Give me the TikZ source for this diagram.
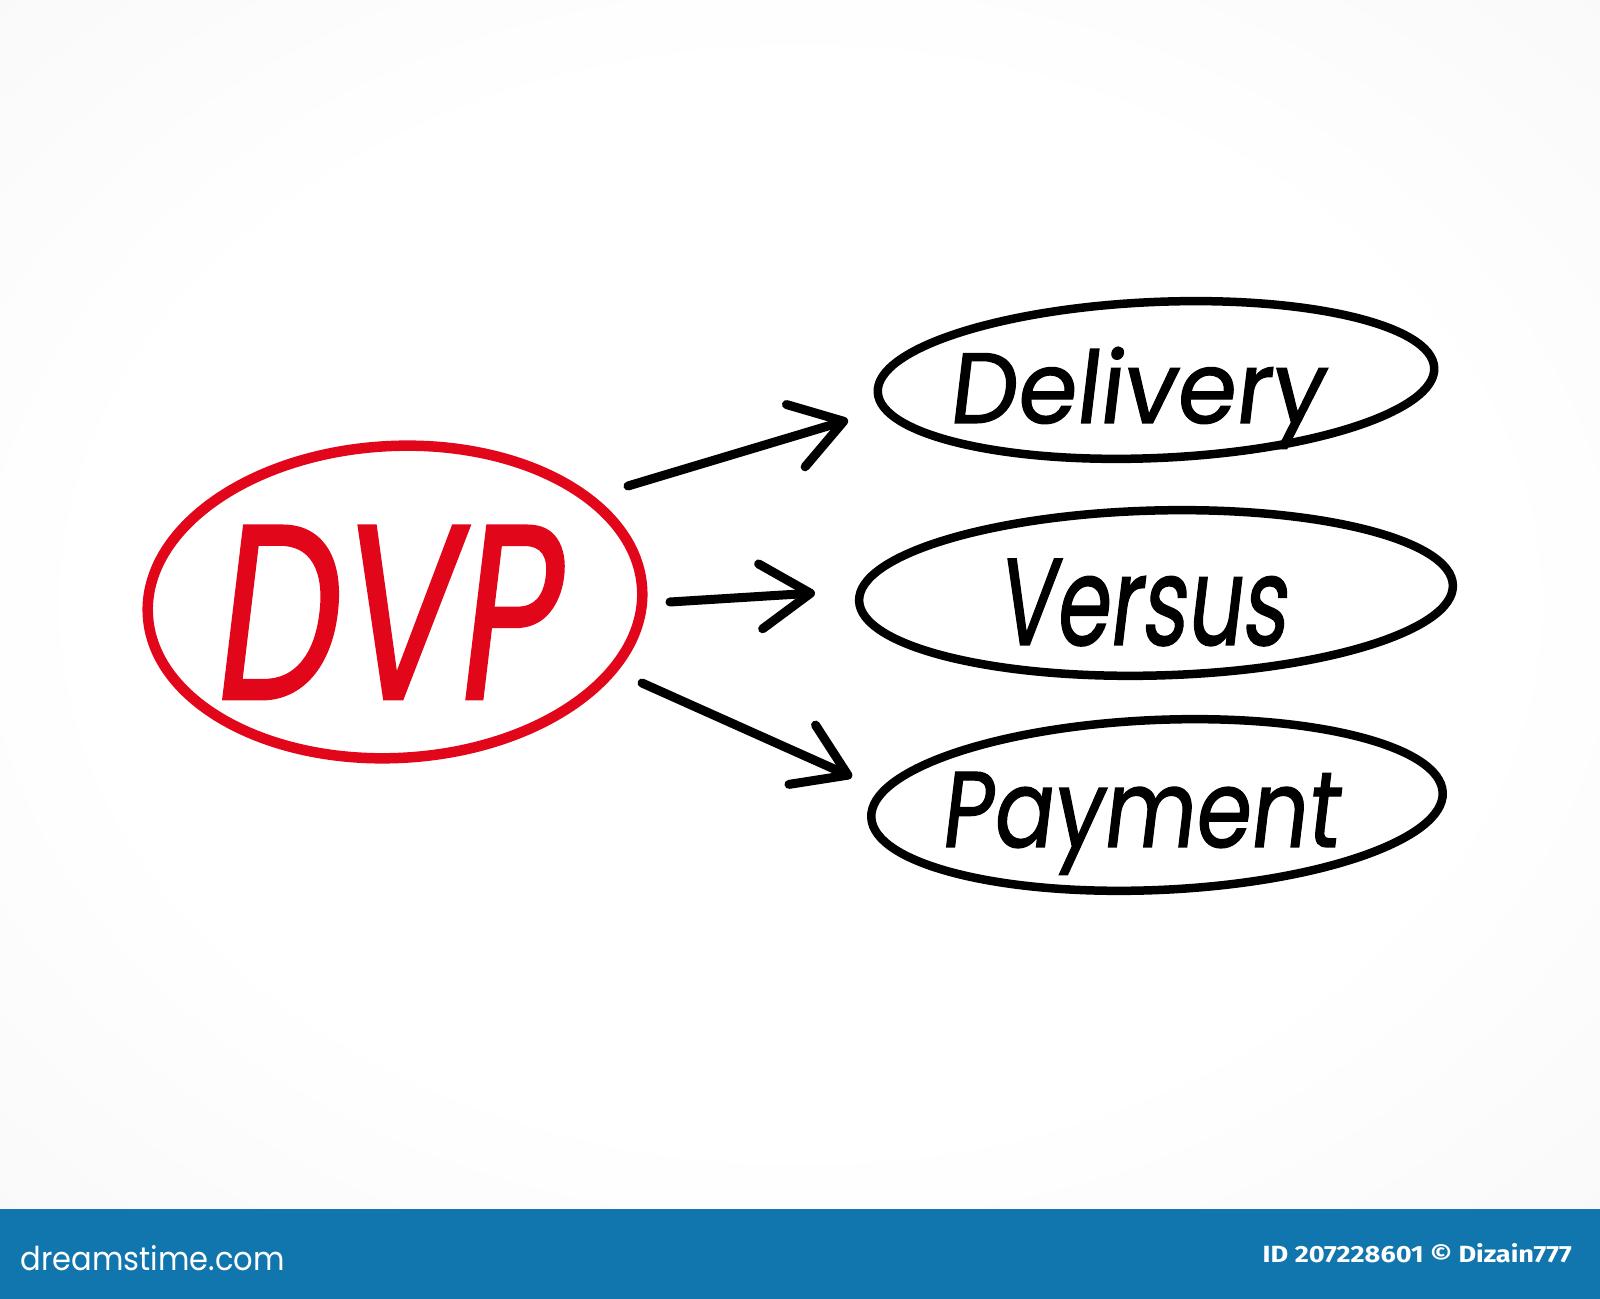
\documentclass[tikz,border=0pt]{standalone}
\usepackage{fontspec}
\setmainfont{Poppins}
\newfontfamily\handfont[FakeBold=1.2]{Poppins}
\newfontfamily\barfont{Fira Sans}
\usetikzlibrary{arrows.meta,shapes.geometric}
\definecolor{dvpred}{HTML}{E2061B}
\definecolor{barblue}{HTML}{1176AE}
\definecolor{bgedge}{HTML}{F3F3F3}
\pgfdeclareradialshading{bgshade}{\pgfpoint{0bp}{0bp}}{color(0bp)=(white); color(22bp)=(white); color(50bp)=(bgedge); color(75bp)=(bgedge)}
\begin{document}
\begin{tikzpicture}[x=0.1mm,y=-0.1mm,
  oval/.style={ellipse, draw=black, line width=0.85mm, inner sep=0pt},
  redoval/.style={ellipse, draw=dvpred, line width=1.05mm, inner sep=0pt},
  word/.style={anchor=base west, inner sep=0pt, text=black, xslant=0.12, transform shape, font=\handfont},
  arr/.style={line width=0.9mm, line cap=round,
    -{Straight Barb[length=5mm,width=6.5mm,line cap=round,line join=round]}},
  bartext/.style={anchor=base west, inner sep=0pt, text=white}]
\useasboundingbox (0,0) rectangle (1600,1299);
\shade[shading=bgshade] (0,0) rectangle (1600,1209);
\fill[barblue] (0,1209) rectangle (1600,1299);

% ovals
\node[redoval, rotate=3, minimum width=49.5mm, minimum height=31.2mm] (dvp) at (395,602) {};
\node[oval, rotate=2.5, minimum width=55.7mm, minimum height=15.6mm] (delivery) at (1156,380) {};
\node[oval, rotate=1.5, minimum width=59.4mm, minimum height=16.5mm] (versus) at (1156,593) {};
\node[oval, rotate=2.5, minimum width=57.2mm, minimum height=17.0mm] (payment) at (1157,805) {};

% texts
\node[word, text=dvpred] (dvptext) at (209,699) {\resizebox{34.5mm}{17.3mm}{DVP}};
\node[word] (deliverytext) at (947,423) {\resizebox{37.5mm}{7.6mm}{Delivery}};
\node[word] (versustext) at (995,645) {\resizebox{29.0mm}{8.6mm}{Versus}};
\node[word] (paymenttext) at (939,847) {\resizebox{39.8mm}{7.5mm}{Payment}};

% arrows
\draw[arr] ([shift={(233,-116)}]dvp.center) -- ([shift={(-308,40)}]delivery.center);
\draw[arr] ([shift={(275,0)}]dvp.center) -- ([shift={(-341,0)}]versus.center);
\draw[arr] ([shift={(247,81)}]dvp.center) -- ([shift={(-305,-28)}]payment.center);

% bottom bar
\node[bartext] (brand) at (20,1271) {\resizebox{26.4mm}{2.5mm}{dreamstime.com}};
\node[bartext] (imgid) at (1262,1263) {\barfont\bfseries\resizebox{30.9mm}{1.9mm}{ID 207228601 © Dizain777}};
\end{tikzpicture}
\end{document}
